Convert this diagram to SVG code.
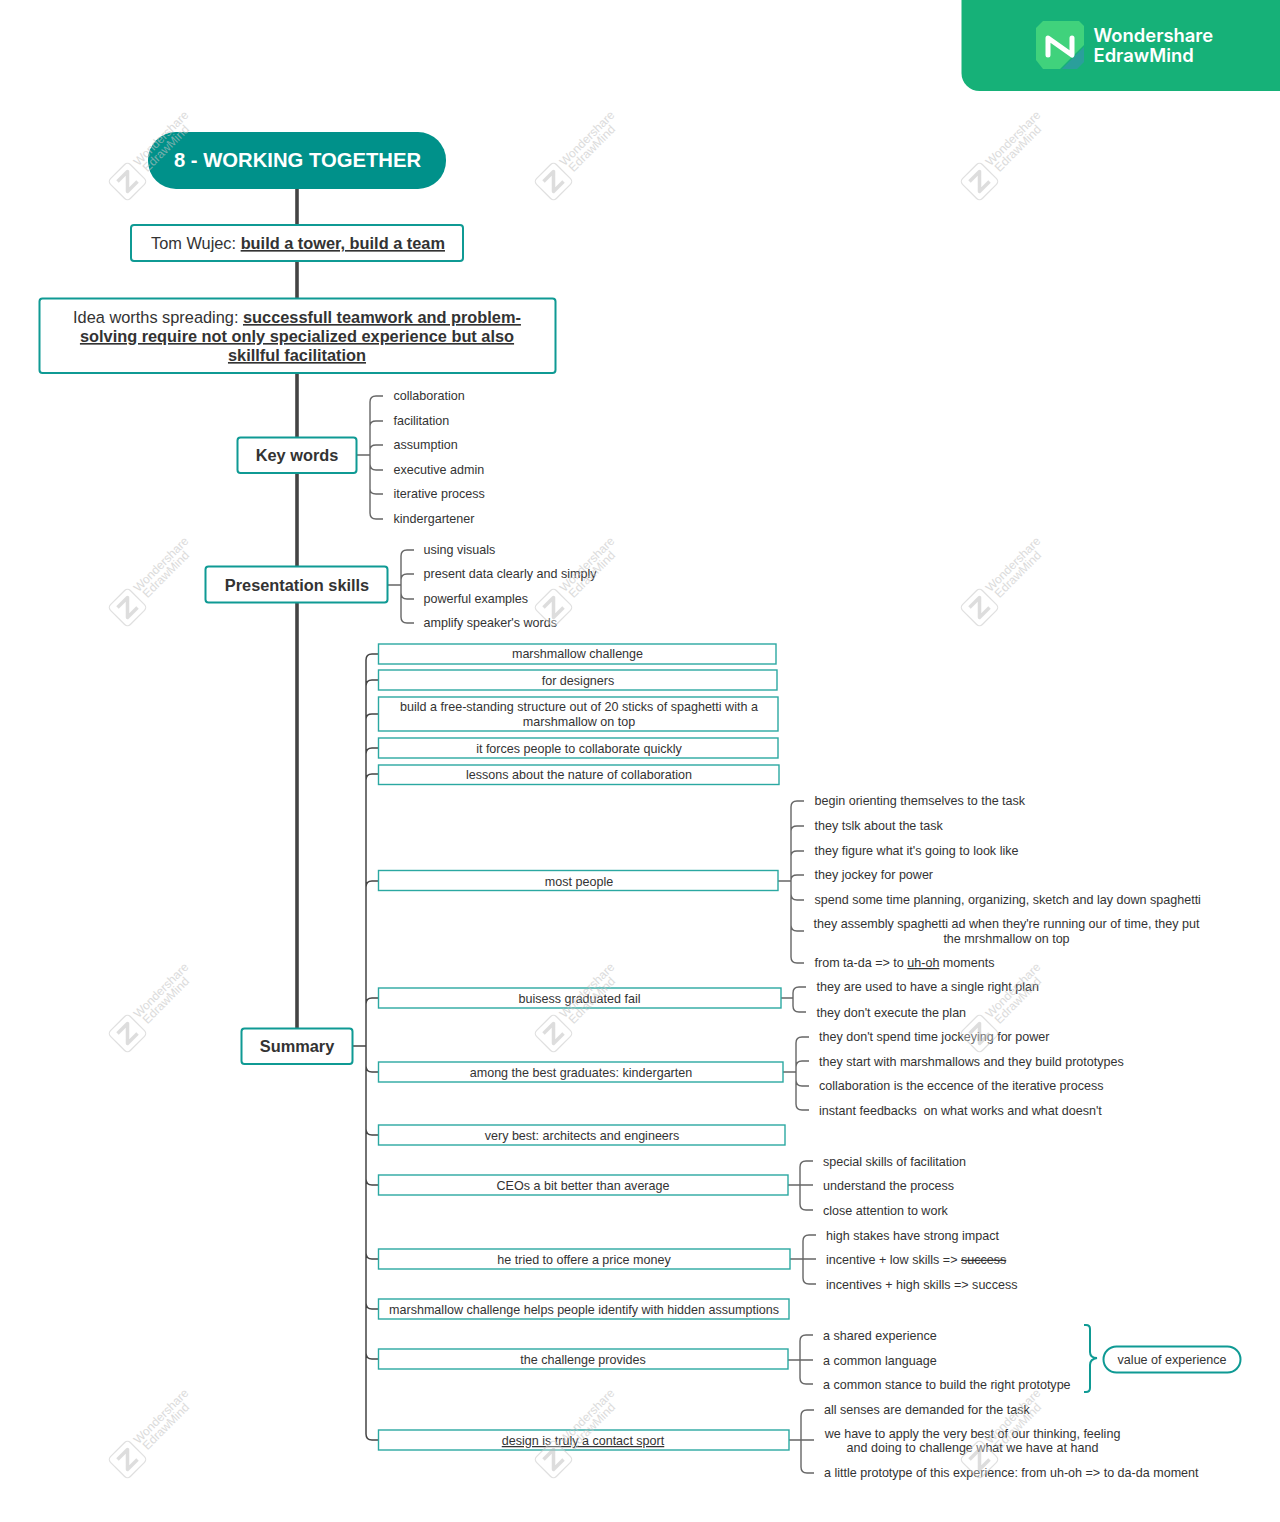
<svg xmlns="http://www.w3.org/2000/svg" width="1280" height="1522" viewBox="0 0 1280 1522">
<style>
text{font-family:"Liberation Sans",Arial,sans-serif;fill:#333}
.s{font-size:12.55px}
.c{text-anchor:middle}
.m{font-size:16.35px}
.b{font-weight:bold}
.u{text-decoration:underline}
.box{fill:#fff;stroke:#0f9a94;stroke-width:2}
.leaf{fill:#fff;stroke:#2ba8a2;stroke-width:1.4}
.br{fill:none;stroke:#666;stroke-width:1.4}
.dk{fill:none;stroke:#444;stroke-width:1.5}
.wmt{font-size:12px;fill:#c4c4c4}
.brand{font-family:Inter,sans-serif;font-size:18.4px;font-weight:600;fill:#fff}
</style>
<defs>
<g id="wm" opacity="0.6">
<rect x="-14" y="-14" width="28" height="28" rx="4" transform="rotate(45)" fill="#fff" fill-opacity="0.5" stroke="#ccc" stroke-width="1.2"/>
<path d="M-10 0L0 -10L0 10L10 0" fill="none" stroke="#c8c8c8" stroke-width="3.5" stroke-linejoin="round"/>
<text class="wmt" transform="translate(11,-15) rotate(-45)">Wondershare</text>
<text class="wmt" transform="translate(20,-9) rotate(-45)">EdrawMind</text>
</g>
</defs>
<rect id="bg" width="1280" height="1522" fill="#fff"/>

<g id="brand">
<rect x="961.500" y="-30" width="340" height="121" rx="18" fill="#16b178"/>
<path d="M1043 21H1079L1084 26V45L1060 69H1043L1036 60V28Z" fill="#40d27c"/>
<path d="M1084 47V62L1077 69H1062Z" fill="#2a9f9b"/>
<path d="M1048 55V38L1072 55V38" fill="none" stroke="#fff" stroke-width="5" stroke-linejoin="round" stroke-linecap="round"/>
<text class="brand" x="1093.500" y="42">Wondershare</text>
<text class="brand" x="1093.500" y="62">EdrawMind</text>
</g>

<g id="connectors">
<path d="M297 189V1028" fill="none" stroke="#444" stroke-width="3.6"/>
<path class="br" d="M357 455H370M383 396H376Q370 396 370 402V513Q370 519 376 519H383M370 426Q370 421 376 421H383M370 450Q370 445 376 445H383M370 464Q370 470 376 470H383M370 489Q370 494 376 494H383"/>
<path class="br" d="M388 585H401M414 550H407Q401 550 401 556V617Q401 623 407 623H414M401 580Q401 574 407 574H414M401 593Q401 599 407 599H414"/>
<path class="dk" d="M353 1046H366M378 654H372Q366 654 366 660V1434Q366 1440 372 1440H378M366 686Q366 680 372 680H378M366 719Q366 714 372 714H378M366 754Q366 748 372 748H378M366 780Q366 774 372 774H378M366 887Q366 881 372 881H378M366 1004Q366 998 372 998H378M366 1066Q366 1072 372 1072H378M366 1129Q366 1135 372 1135H378M366 1179Q366 1185 372 1185H378M366 1253Q366 1259 372 1259H378M366 1303Q366 1309 372 1309H378M366 1353Q366 1359 372 1359H378"/>
<path class="br" d="M778 881H791M804 801H797Q791 801 791 807V957Q791 963 797 963H804M791 831Q791 826 797 826H804M791 856Q791 851 797 851H804M791 880Q791 875 797 875H804M791 894Q791 900 797 900H804M791 925Q791 931 797 931H804"/>
<path class="br" d="M781 998H793M806 987H799Q793 987 793 993V1006Q793 1012 799 1012H806"/>
<path class="br" d="M783 1072H796M809 1037H802Q796 1037 796 1043V1104Q796 1110 802 1110H809M796 1067Q796 1061 802 1061H809M796 1080Q796 1086 802 1086H809"/>
<path class="br" d="M788 1185H813M813 1161H806Q800 1161 800 1167V1204Q800 1210 806 1210H813"/>
<path class="br" d="M790 1259H816M816 1235H809Q803 1235 803 1241V1278Q803 1284 809 1284H816"/>
<path class="br" d="M788 1360H813M813 1335H806Q800 1335 800 1341V1378Q800 1384 806 1384H813"/>
<path class="br" d="M789 1440H814M814 1410H807Q801 1410 801 1416V1467Q801 1473 807 1473H814"/>
<path d="M1084 1325H1086Q1090 1325 1090 1329V1352Q1090 1358 1097 1358Q1090 1359 1090 1365V1388Q1090 1392 1086 1392H1084" fill="none" stroke="#0f9a94" stroke-width="2"/>
</g>

<g id="title"><rect x="148" y="132" width="298" height="57" rx="28" fill="#00918a"/><text class="c b" x="297.500" y="167" style="font-size:20.25px;fill:#fff">8 - WORKING TOGETHER</text></g>
<g id="tom"><rect class="box" x="131" y="225" width="332" height="36" rx="3"/><text class="m c" x="298" y="249">Tom Wujec: <tspan class="b u">build a tower, build a team</tspan></text></g>
<g id="idea"><rect class="box" x="39.500" y="298.500" width="516" height="74.500" rx="3"/>
<text class="m c" x="297" y="323">Idea worths spreading: <tspan class="b u">successfull teamwork and problem-</tspan></text>
<text class="m c b u" x="297" y="342">solving require not only specialized experience but also</text>
<text class="m c b u" x="297" y="361">skillful facilitation</text></g>
<g id="keywords"><rect class="box" x="237.500" y="437.500" width="119" height="35.500" rx="3"/><text class="m c b" x="297" y="461">Key words</text></g>
<g id="presentation"><rect class="box" x="205.500" y="566.500" width="182" height="36" rx="3"/><text class="m c b" x="297" y="590.500">Presentation skills</text></g>
<g id="summary"><rect class="box" x="241.500" y="1028.500" width="111" height="35.500" rx="3"/><text class="m c b" x="297" y="1052">Summary</text></g>

<g id="kw-items" class="s">
<text x="393.500" y="400">collaboration</text><text x="393.500" y="425">facilitation</text><text x="393.500" y="449">assumption</text><text x="393.500" y="474">executive admin</text><text x="393.500" y="498">iterative process</text><text x="393.500" y="523">kindergartener</text>
</g>
<g id="ps-items" class="s">
<text x="423.500" y="554">using visuals</text><text x="423.500" y="578">present data clearly and simply</text><text x="423.500" y="603">powerful examples</text><text x="423.500" y="627">amplify speaker's words</text>
</g>

<g id="n1"><rect class="leaf" x="378.500" y="644" width="397.500" height="20"/><text class="s c" x="577.500" y="658">marshmallow challenge</text></g>
<g id="n2"><rect class="leaf" x="378.500" y="670" width="398.500" height="20"/><text class="s c" x="578" y="685">for designers</text></g>
<g id="n3"><rect class="leaf" x="378.500" y="697" width="399.500" height="34"/><text class="s c" x="579" y="711">build a free-standing structure out of 20 sticks of spaghetti with a</text><text class="s c" x="579" y="726">marshmallow on top</text></g>
<g id="n4"><rect class="leaf" x="378.500" y="738" width="399.500" height="20"/><text class="s c" x="579" y="753">it forces people to collaborate quickly</text></g>
<g id="n5"><rect class="leaf" x="378.500" y="765" width="400.500" height="19.500"/><text class="s c" x="579" y="779">lessons about the nature of collaboration</text></g>
<g id="n6"><rect class="leaf" x="378.500" y="870.500" width="399.500" height="20"/><text class="s c" x="579" y="885.500">most people</text></g>
<g id="n7"><rect class="leaf" x="378.500" y="988" width="402.500" height="20"/><text class="s c" x="579.500" y="1003">buisess graduated fail</text></g>
<g id="n8"><rect class="leaf" x="378.500" y="1062" width="404.500" height="20"/><text class="s c" x="581" y="1076.500">among the best graduates: kindergarten</text></g>
<g id="n9"><rect class="leaf" x="378.500" y="1125" width="406.500" height="20"/><text class="s c" x="582" y="1139.500">very best: architects and engineers</text></g>
<g id="n10"><rect class="leaf" x="378.500" y="1175" width="409.500" height="20"/><text class="s c" x="583" y="1189.500">CEOs a bit better than average</text></g>
<g id="n11"><rect class="leaf" x="378.500" y="1249" width="411.500" height="20"/><text class="s c" x="584" y="1264">he tried to offere a price money</text></g>
<g id="n12"><rect class="leaf" x="378.500" y="1299" width="410.500" height="20"/><text class="s c" x="584" y="1314">marshmallow challenge helps people identify with hidden assumptions</text></g>
<g id="n13"><rect class="leaf" x="378.500" y="1349" width="409.500" height="20"/><text class="s c" x="583" y="1364">the challenge provides</text></g>
<g id="n14"><rect class="leaf" x="378.500" y="1430" width="410.500" height="20"/><text class="s c u" x="583" y="1445">design is truly a contact sport</text></g>

<g id="most-items" class="s">
<text x="814.500" y="805">begin orienting themselves to the task</text>
<text x="814.500" y="830">they tslk about the task</text>
<text x="814.500" y="855">they figure what it's going to look like</text>
<text x="814.500" y="879">they jockey for power</text>
<text x="814.500" y="904">spend some time planning, organizing, sketch and lay down spaghetti</text>
<text class="c" x="1006.500" y="928">they assembly spaghetti ad when they're running our of time, they put</text>
<text class="c" x="1006.500" y="943">the mrshmallow on top</text>
<text x="814.500" y="967">from ta-da =&gt; to <tspan class="u">uh-oh</tspan> moments</text>
</g>
<g id="fail-items" class="s">
<text x="816.500" y="991">they are used to have a single right plan</text>
<text x="816.500" y="1017">they don't execute the plan</text>
</g>
<g id="kinder-items" class="s">
<text x="819" y="1041">they don't spend time jockeying for power</text>
<text x="819" y="1066">they start with marshmallows and they build prototypes</text>
<text x="819" y="1090">collaboration is the eccence of the iterative process</text>
<text x="819" y="1115" xml:space="preserve">instant feedbacks  on what works and what doesn't</text>
</g>
<g id="ceo-items" class="s">
<text x="823" y="1166">special skills of facilitation</text>
<text x="823" y="1190">understand the process</text>
<text x="823" y="1215">close attention to work</text>
</g>
<g id="price-items" class="s">
<text x="826" y="1240">high stakes have strong impact</text>
<text x="826" y="1264">incentive + low skills =&gt; <tspan text-decoration="line-through">success</tspan></text>
<text x="826" y="1289">incentives + high skills =&gt; success</text>
</g>
<g id="provides-items" class="s">
<text x="823" y="1340">a shared experience</text>
<text x="823" y="1365">a common language</text>
<text x="823" y="1389">a common stance to build the right prototype</text>
</g>
<g id="sport-items" class="s">
<text x="824" y="1414">all senses are demanded for the task</text>
<text class="c" x="972.500" y="1438">we have to apply the very best of our thinking, feeling</text>
<text class="c" x="972.500" y="1452">and doing to challenge what we have at hand</text>
<text x="824" y="1477">a little prototype of this experience: from uh-oh =&gt; to da-da moment</text>
</g>
<g id="value"><rect x="1103.500" y="1346.500" width="137" height="26" rx="13" fill="#fff" stroke="#0f9a94" stroke-width="2"/><text class="s c" x="1172" y="1364">value of experience</text></g>

<g id="watermarks">
<use href="#wm" x="127.500" y="181.500"/><use href="#wm" x="553.500" y="181.500"/><use href="#wm" x="979.500" y="181.500"/>
<use href="#wm" x="127.500" y="607.500"/><use href="#wm" x="553.500" y="607.500"/><use href="#wm" x="979.500" y="607.500"/>
<use href="#wm" x="127.500" y="1033.500"/><use href="#wm" x="553.500" y="1033.500"/><use href="#wm" x="979.500" y="1033.500"/>
<use href="#wm" x="127.500" y="1459.500"/><use href="#wm" x="553.500" y="1459.500"/><use href="#wm" x="979.500" y="1459.500"/>
</g>
</svg>
